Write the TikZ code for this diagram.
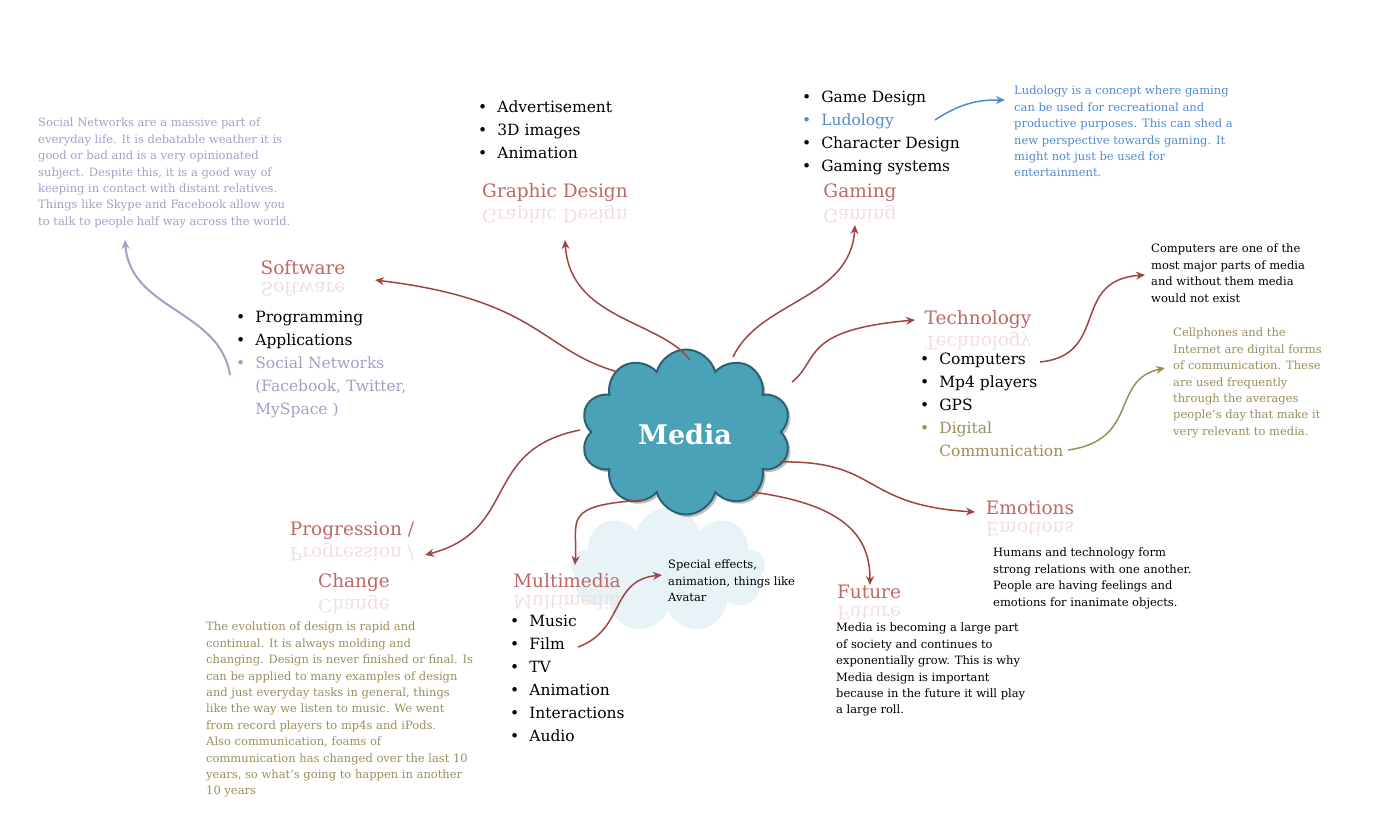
\documentclass[tikz,border=0pt]{standalone}
\usepackage{fontspec}
\setmainfont{DejaVu Serif}
\usetikzlibrary{shapes.symbols,arrows.meta,shadows}
\definecolor{arr}{HTML}{A04444}
\definecolor{head}{HTML}{B24C4C}
\definecolor{lav}{HTML}{A89CC8}
\definecolor{blu}{HTML}{4F8BD0}
\definecolor{oli}{HTML}{9A8F5A}
\definecolor{teal}{HTML}{4AA2B9}
\tikzset{
 con/.style={draw=arr,line width=1.5pt,-{Stealth[length=9pt,width=8pt]}},
 hd/.style={font=\fontsize{18.5}{20}\selectfont,text=head!85,inner sep=0},
 hdr/.style={font=\fontsize{18.5}{20}\selectfont,text=head!18,inner sep=0,yscale=-1},
 bl/.style={anchor=north west,align=left,inner sep=0,font=\fontsize{15.5}{23}\selectfont},
 para/.style={anchor=north west,align=left,inner sep=0,font=\fontsize{11.5}{16.4}\selectfont},
}
\newcommand{\bul}{\textbullet\hspace{10pt}}
\begin{document}
\begin{tikzpicture}[x=1pt,y=-1pt]
\useasboundingbox (0,0) rectangle (1385,833);
% reflection cloud
\node[cloud,cloud puffs=9,aspect=1.7,minimum width=195,minimum height=125,fill=teal!13,draw=none] (refl) at (668,570) {};
% main cloud
\node[cloud,cloud puffs=10,aspect=1.45,minimum width=210,minimum height=165,fill=teal,draw=teal!60!black,line width=2pt,drop shadow={opacity=0.5}] (media) at (686,432) {};
\node[font=\bfseries\fontsize{27}{30}\selectfont,text=white] (mt) at (685,434) {Media};
% headings
\node[hd] (sw) at (303,268) {Software}; \node[hdr] at (303,289) {Software};
\node[hd] (gd) at (555,193) {Graphic Design}; \node[hdr] at (555,214) {Graphic Design};
\node[hd] (gm) at (860,193) {Gaming}; \node[hdr] at (860,214) {Gaming};
\node[hd] (te) at (978,320) {Technology}; \node[hdr] at (978,341) {Technology};
\node[hd] (em) at (1030,508) {Emotions}; \node[hdr] at (1030,529) {Emotions};
\node[hd] (pr) at (352,531) {Progression /}; \node[hdr] at (352,552) {Progression /};
\node[hd] (ch) at (354,583) {Change}; \node[hdr] at (354,604) {Change};
\node[hd] (mm) at (567,581) {Multimedia}; \node[hdr] at (567,602) {Multimedia};
\node[hd] (fu) at (869,592) {Future}; \node[hdr] at (869,613) {Future};
% bullets
\node[bl] (gdl) at (478,101) {\bul Advertisement\\\bul 3D images\\\bul Animation};
\node[bl] (gml) at (802,91) {\bul Game Design\\\textcolor{blu}{\bul Ludology}\\\bul Character Design\\\bul Gaming systems};
\node[bl] (swl) at (236,311) {\bul Programming\\\bul Applications\\\textcolor{lav}{\bul Social Networks}\\\textcolor{lav}{\phantom{\bul}(Facebook, Twitter,}\\\textcolor{lav}{\phantom{\bul}MySpace )}};
\node[bl] (tel) at (920,353) {\bul Computers\\\bul Mp4 players\\\bul GPS\\\textcolor{oli}{\bul Digital}\\\textcolor{oli}{\phantom{\bul}Communication}};
\node[bl] (mml) at (510,615) {\bul Music\\\bul Film\\\bul TV\\\bul Animation\\\bul Interactions\\\bul Audio};
% paragraphs
\node[para,text=lav] (sp) at (38,118) {Social Networks are a massive part of\\everyday life. It is debatable weather it is\\good or bad and is a very opinionated\\subject. Despite this, it is a good way of\\keeping in contact with distant relatives.\\Things like Skype and Facebook allow you\\to talk to people half way across the world.};
\node[para,text=blu] (lp) at (1014,86) {Ludology is a concept where gaming\\can be used for recreational and\\productive purposes. This can shed a\\new perspective towards gaming. It\\might not just be used for\\entertainment.};
\node[para] (cp) at (1151,244) {Computers are one of the\\most major parts of media\\and without them media\\would not exist};
\node[para,text=oli] (dp) at (1173,328) {Cellphones and the\\Internet are digital forms\\of communication. These\\are used frequently\\through the averages\\people's day that make it\\very relevant to media.};
\node[para] (ep) at (993,548) {Humans and technology form\\strong relations with one another.\\People are having feelings and\\emotions for inanimate objects.};
\node[para] (fp) at (836,623) {Media is becoming a large part\\of society and continues to\\exponentially grow.  This is why\\Media design is important\\because in the future it will play\\a large roll.};
\node[para] (xp) at (668,560) {Special effects,\\animation, things like\\Avatar};
\node[para,text=oli] (pp) at (206,622) {The evolution of design is rapid and\\continual. It is always molding and\\changing. Design is never finished or final. Is\\can be applied to many examples of design\\and just everyday tasks in general, things\\like the way we listen to music. We went\\from record players to mp4s and iPods.\\Also communication, foams of\\communication has changed over the last 10\\years, so what's going to happen in another\\10 years};
% coordinates
\coordinate (c1) at (690,360); \coordinate (c2) at (733,357); \coordinate (c3) at (618,372);
\coordinate (c4) at (792,382); \coordinate (c5) at (780,462); \coordinate (c6) at (752,492);
\coordinate (c7) at (645,500); \coordinate (c8) at (580,430);
\coordinate (t1) at (565,240); \coordinate (t2) at (855,225); \coordinate (t3) at (375,280);
\coordinate (t4) at (915,320); \coordinate (t5) at (975,512); \coordinate (t6) at (870,585);
\coordinate (t7) at (575,565); \coordinate (t8) at (425,555);
\draw[con] (c1) .. controls (660,320) and (570,320) .. (t1);
\draw[con] (c2) .. controls (760,300) and (850,300) .. (t2);
\draw[con] (c3) .. controls (540,350) and (540,300) .. (t3);
\draw[con] (c4) .. controls (820,360) and (800,330) .. (t4);
\draw[con] (c5) .. controls (880,460) and (860,505) .. (t5);
\draw[con] (c6) .. controls (850,505) and (870,540) .. (t6);
\draw[con] (c7) .. controls (560,505) and (578,520) .. (t7);
\draw[con] (c8) .. controls (480,450) and (520,530) .. (t8);
\coordinate (a1) at (1040,362); \coordinate (b1) at (1145,275);
\draw[con] (a1) .. controls (1110,355) and (1070,280) .. (b1);
\coordinate (a2) at (1068,450); \coordinate (b2) at (1165,368);
\draw[con,draw=oli] (a2) .. controls (1140,440) and (1110,380) .. (b2);
\coordinate (a3) at (935,120); \coordinate (b3) at (1005,100);
\draw[con,draw=blu] (a3) .. controls (965,100) and (985,100) .. (b3);
\coordinate (a4) at (230,375); \coordinate (b4) at (125,240);
\draw[con,draw=lav,line width=2pt] (a4) .. controls (220,310) and (130,310) .. (b4);
\coordinate (a5) at (578,647); \coordinate (b5) at (662,575);
\draw[con] (a5) .. controls (625,630) and (610,580) .. (b5);
\end{tikzpicture}
\end{document}
